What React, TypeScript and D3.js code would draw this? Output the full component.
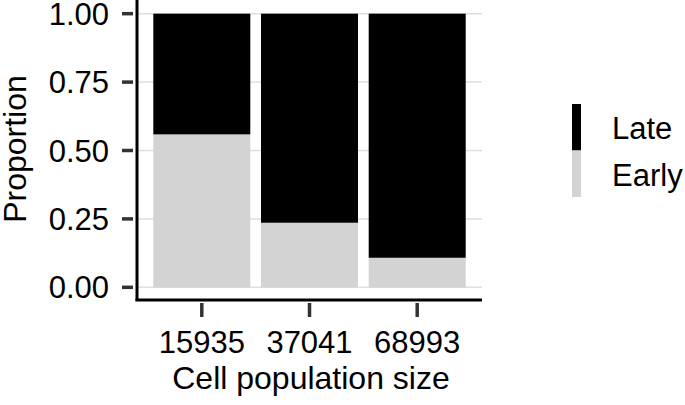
import * as d3 from 'd3';

const sizes = ['15935', '37041', '68993'];
const early = [0.559, 0.236, 0.108];
const late = early.map((e) => 1 - e);
const yTicks = [0, 0.25, 0.5, 0.75, 1];
const groups = ['Late', 'Early'];
const colors: Record<string, string> = { Late: '#000000', Early: '#d3d3d3' };

const W = 685;
const H = 405;
const panel = { left: 137, right: 482, top: 0, bottom: 301 };
const font = '"Liberation Sans", Arial, sans-serif';

export default function App() {
  // discrete scale with ggplot-like 0.6 expansion
  const x = d3
    .scalePoint()
    .domain(sizes)
    .range([panel.left + 0.6 * 108, panel.right - 0.6 * 108]);
  const barW = 97;
  const y = d3.scaleLinear().domain([-0.05, 1.05]).range([panel.bottom, panel.top]);

  return (
    <svg
      width={W}
      height={H}
      style={{ position: 'absolute', left: 0, top: 0, background: '#fff' }}
      fontFamily={font}
    >
      {/* grid */}
      {yTicks.map((t) => (
        <line
          key={'g' + t}
          x1={panel.left}
          x2={panel.right}
          y1={y(t)}
          y2={y(t)}
          stroke="#dedede"
          strokeWidth={1.5}
        />
      ))}

      {/* bars */}
      {sizes.map((s, i) => (
        <g key={s}>
          <rect
            x={(x(s) || 0) - barW / 2}
            y={y(early[i])}
            width={barW}
            height={y(0) - y(early[i])}
            fill={colors.Early}
          />
          <rect
            x={(x(s) || 0) - barW / 2}
            y={y(1)}
            width={barW}
            height={y(early[i]) - y(early[i] + late[i])}
            fill={colors.Late}
          />
        </g>
      ))}

      {/* axis lines */}
      <line x1={panel.left} x2={panel.left} y1={panel.top} y2={panel.bottom} stroke="#000" strokeWidth={3} />
      <line x1={panel.left - 1.5} x2={panel.right} y1={panel.bottom - 1} y2={panel.bottom - 1} stroke="#000" strokeWidth={3} />

      {/* y ticks */}
      {yTicks.map((t) => (
        <g key={'y' + t}>
          <line x1={122} x2={133} y1={y(t)} y2={y(t)} stroke="#333" strokeWidth={3.5} />
          <text x={109} y={y(t)} dy="0.36em" textAnchor="end" fontSize={31} fill="#000">
            {t.toFixed(2)}
          </text>
        </g>
      ))}

      {/* x ticks */}
      {sizes.map((s) => (
        <g key={'x' + s}>
          <line x1={x(s)} x2={x(s)} y1={303} y2={317} stroke="#333" strokeWidth={3.5} />
          <text x={x(s)} y={353} textAnchor="middle" fontSize={31} fill="#000">
            {s}
          </text>
        </g>
      ))}

      <text
        transform="translate(26,149) rotate(-90)"
        textAnchor="middle"
        fontSize={32}
        fill="#000"
      >
        Proportion
      </text>
      <text x={311} y={389} textAnchor="middle" fontSize={32} fill="#000">
        Cell population size
      </text>

      {/* legend */}
      {groups.map((g, i) => (
        <g key={g}>
          <rect x={572} y={104 + i * 46.5} width={9} height={46.5} fill={colors[g]} />
          <text x={612} y={128 + i * 46.5} dy="0.36em" fontSize={31} fill="#000">
            {g}
          </text>
        </g>
      ))}
    </svg>
  );
}
